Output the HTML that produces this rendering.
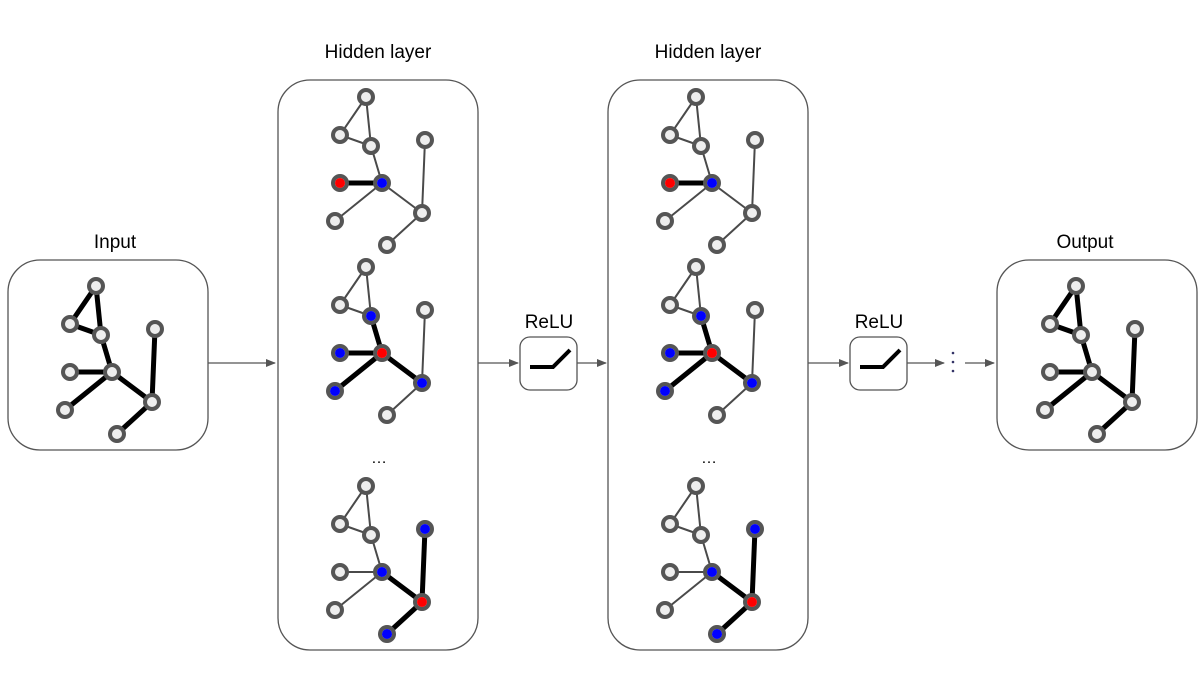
<!DOCTYPE html>
<html><head><meta charset="utf-8"><style>
body{margin:0;background:#fff}
svg{display:block}
text{font-family:"Liberation Sans",sans-serif;font-size:19px;fill:#000;text-anchor:middle}
</style></head><body>
<svg width="1200" height="675" viewBox="0 0 1200 675" xmlns="http://www.w3.org/2000/svg">
<defs>
<marker id="ar" markerWidth="10" markerHeight="8" refX="9" refY="4" orient="auto" markerUnits="userSpaceOnUse">
<path d="M0,0 L10,4 L0,8 z" fill="#555"/></marker>
<g id="thin" stroke="#4a4a4a" stroke-width="2" fill="none">
<path d="M96,286L70,324M96,286L101,335M70,324L101,335M101,335L112,372M70,372L112,372M112,372L65,410M112,372L152,402M155,329L152,402M152,402L117,434"/>
</g>
<g id="thick" stroke="#000" stroke-width="5" fill="none">
<path d="M96,286L70,324M96,286L101,335M70,324L101,335M101,335L112,372M70,372L112,372M112,372L65,410M112,372L152,402M155,329L152,402M152,402L117,434"/>
</g>
<g id="nodes" fill="#eee" stroke="#555" stroke-width="4">
<circle cx="96" cy="286" r="7"/><circle cx="70" cy="324" r="7"/><circle cx="101" cy="335" r="7"/>
<circle cx="155" cy="329" r="7"/><circle cx="70" cy="372" r="7"/><circle cx="112" cy="372" r="7"/>
<circle cx="65" cy="410" r="7"/><circle cx="152" cy="402" r="7"/><circle cx="117" cy="434" r="7"/>
</g>
<g id="g1">
<use href="#thin"/>
<path d="M70,372L112,372" stroke="#000" stroke-width="5"/>
<use href="#nodes"/>
<circle cx="70" cy="372" r="5" fill="#f00"/><circle cx="112" cy="372" r="5" fill="#00f"/>
</g>
<g id="g2">
<use href="#thin"/>
<path d="M101,335L112,372M70,372L112,372M112,372L65,410M112,372L152,402" stroke="#000" stroke-width="5" fill="none"/>
<use href="#nodes"/>
<circle cx="112" cy="372" r="5" fill="#f00"/><circle cx="101" cy="335" r="5" fill="#00f"/>
<circle cx="70" cy="372" r="5" fill="#00f"/><circle cx="65" cy="410" r="5" fill="#00f"/><circle cx="152" cy="402" r="5" fill="#00f"/>
</g>
<g id="g3">
<use href="#thin"/>
<path d="M112,372L152,402M155,329L152,402M152,402L117,434" stroke="#000" stroke-width="5" fill="none"/>
<use href="#nodes"/>
<circle cx="152" cy="402" r="5" fill="#f00"/><circle cx="112" cy="372" r="5" fill="#00f"/>
<circle cx="155" cy="329" r="5" fill="#00f"/><circle cx="117" cy="434" r="5" fill="#00f"/>
</g>
</defs>

<g fill="none" stroke="#555" stroke-width="1.3">
<rect x="8" y="260" width="200" height="190" rx="32"/>
<rect x="278" y="80" width="200" height="570" rx="32"/>
<rect x="608" y="80" width="200" height="570" rx="32"/>
<rect x="997" y="260" width="200" height="190" rx="32"/>
<rect x="520" y="337" width="57" height="53" rx="10"/>
<rect x="850" y="337" width="57" height="53" rx="10"/>
</g>
<g stroke="#555" stroke-width="1.3" marker-end="url(#ar)">
<line x1="208" y1="363" x2="275" y2="363"/>
<line x1="478" y1="363" x2="518" y2="363"/>
<line x1="577" y1="363" x2="606" y2="363"/>
<line x1="808" y1="363" x2="848" y2="363"/>
<line x1="907" y1="363" x2="944" y2="363"/>
<line x1="965" y1="363" x2="994" y2="363"/>
</g>
<g fill="#336">
<circle cx="953" cy="353" r="1.3"/><circle cx="953" cy="362" r="1.3"/><circle cx="953" cy="371" r="1.3"/>
</g>
<g stroke="#000" stroke-width="4" fill="none">
<path d="M530,367L553,367L570,350"/>
<path d="M860,367L883,367L900,350"/>
</g>

<text x="115" y="248">Input</text>
<text x="378" y="58">Hidden layer</text>
<text x="708" y="58">Hidden layer</text>
<text x="549" y="328">ReLU</text>
<text x="879" y="328">ReLU</text>
<text x="1085" y="248">Output</text>
<text x="379" y="463" style="font-size:16px">…</text>
<text x="709" y="463" style="font-size:16px">…</text>

<g><use href="#thick"/><use href="#nodes"/></g>
<g transform="translate(980,0)"><use href="#thick"/><use href="#nodes"/></g>
<use href="#g1" transform="translate(270,-189)"/>
<use href="#g2" transform="translate(270,-19)"/>
<use href="#g3" transform="translate(270,200)"/>
<use href="#g1" transform="translate(600,-189)"/>
<use href="#g2" transform="translate(600,-19)"/>
<use href="#g3" transform="translate(600,200)"/>
</svg>
</body></html>
